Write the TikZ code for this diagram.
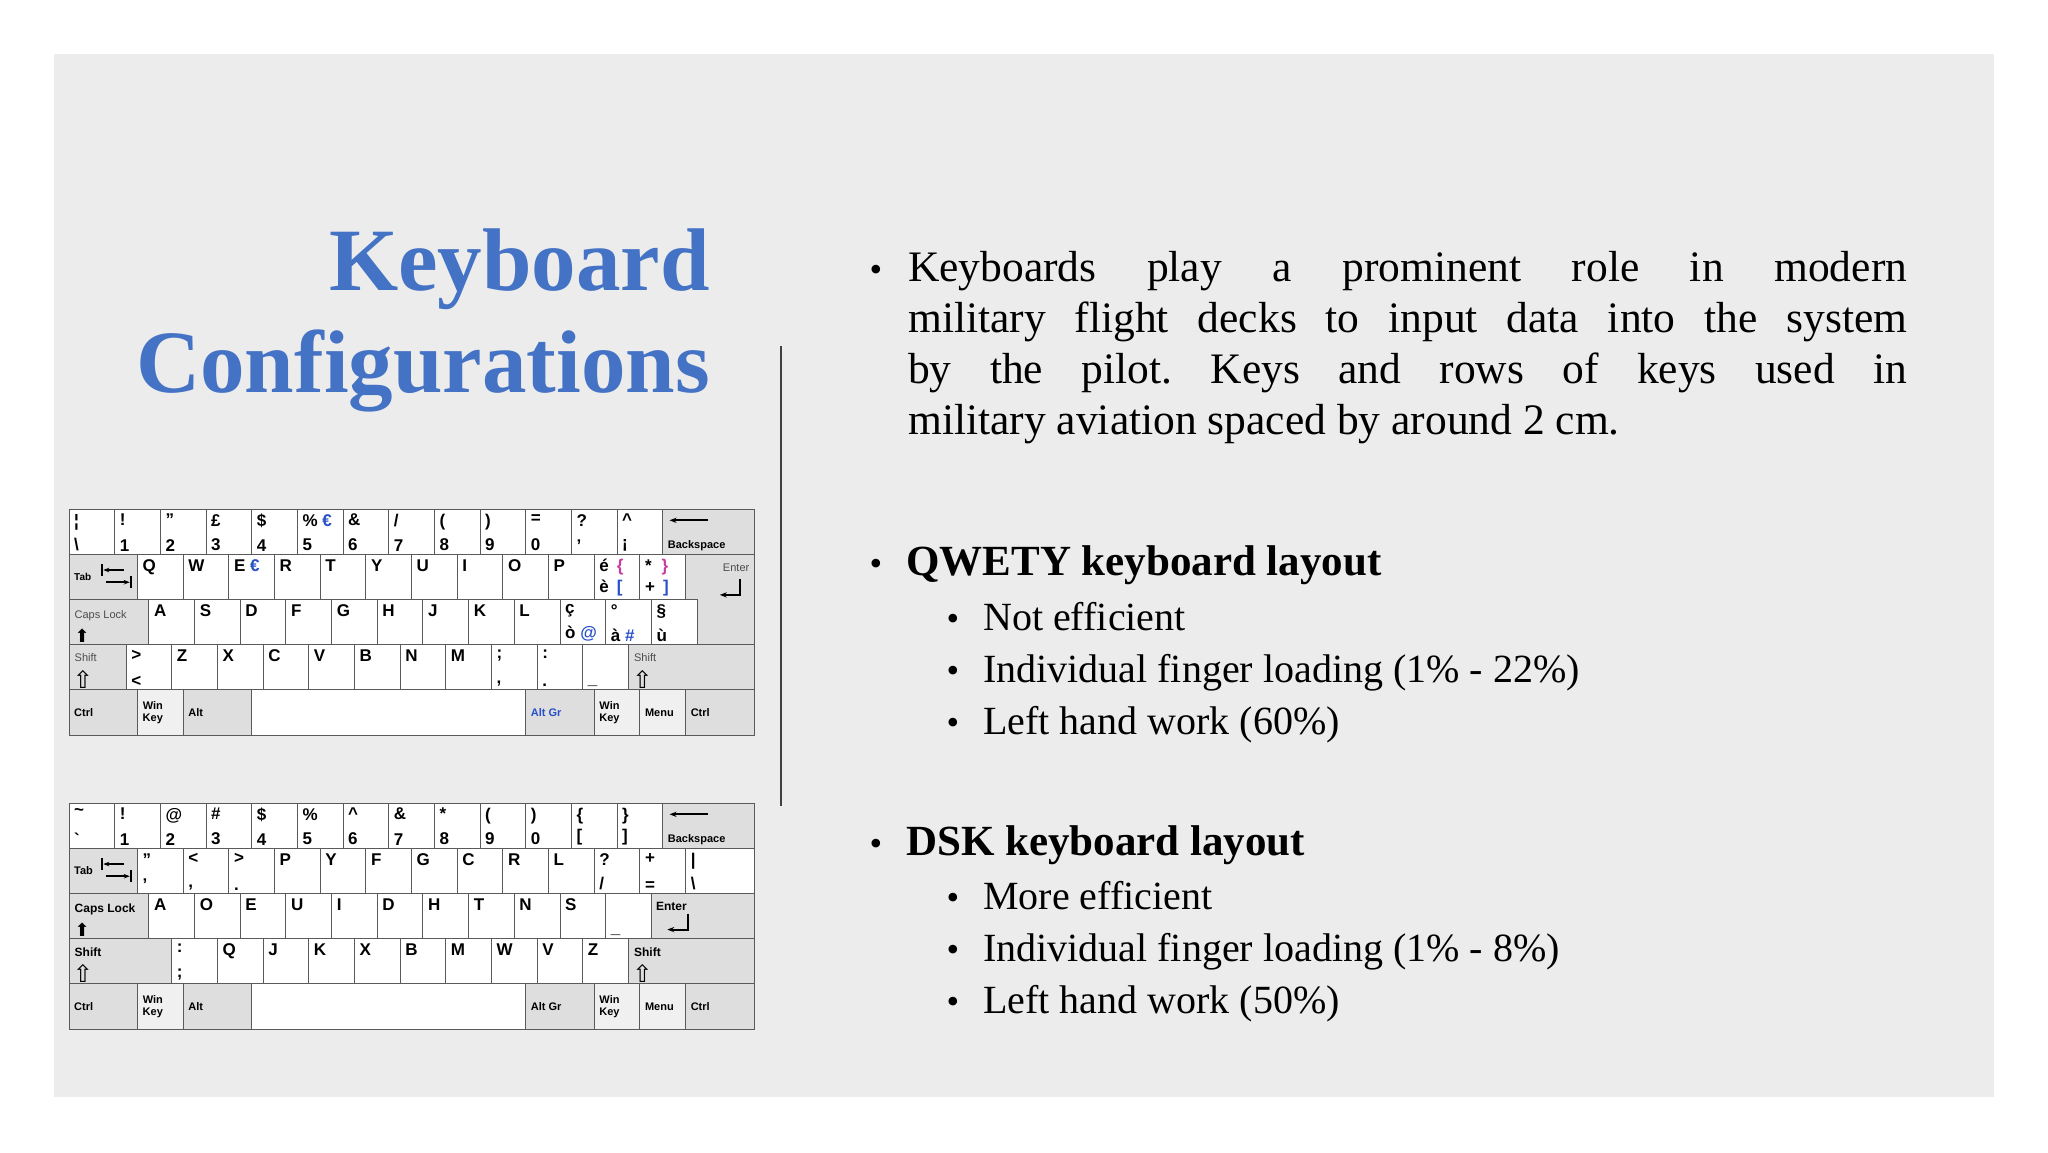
\documentclass[tikz,border=0pt]{standalone}
\usepackage{fontspec}
\setmainfont{Liberation Serif}
\setsansfont{Liberation Sans}
\newfontfamily\djv{DejaVu Sans}
\usetikzlibrary{arrows.meta}
\definecolor{bgc}{RGB}{236,236,237}
\definecolor{ttl}{RGB}{68,114,196}
\definecolor{kblue}{RGB}{40,80,200}
\definecolor{kpink}{RGB}{200,60,160}
\definecolor{kmod}{RGB}{222,222,222}
\definecolor{klt}{RGB}{240,240,240}
\definecolor{kedge}{RGB}{90,90,90}
\tikzset{
 keyb/.style={draw=kedge,line width=0.9pt},
 ktop/.style={anchor=north west,inner sep=0pt,xshift=5pt,yshift=-5pt,font=\sffamily\bfseries\fontsize{17}{17}\selectfont},
 kbot/.style={anchor=south west,inner sep=0pt,xshift=5pt,yshift=3pt,font=\sffamily\bfseries\fontsize{17}{17}\selectfont},
 kmid/.style={anchor=west,inner sep=0pt,xshift=5pt,font=\sffamily\bfseries\fontsize{11}{12}\selectfont,align=center},
 body/.style={anchor=north west,inner sep=0pt,font=\frenchspacing\fontsize{43.5}{51}\selectfont,text width=999pt,align=justify},
 bul/.style={anchor=base,inner sep=0pt,font=\fontsize{36}{51}\selectfont},
 sub/.style={anchor=base west,inner sep=0pt,font=\fontsize{40}{50}\selectfont},
 head/.style={anchor=base west,inner sep=0pt,font=\bfseries\fontsize{43}{50}\selectfont},
}
\newcommand\K[6]{%
 \draw[keyb,fill=#4] (#1,#2) rectangle ++(#3,1);
 \node[ktop] at (#1,#2) {#5};
 \node[kbot] at (#1,#2+1) {#6};}
\newcommand\M[5]{%
 \draw[keyb,fill=#4] (#1,#2) rectangle ++(#3,1);
 \node[kmid] at (#1,#2+0.5) {#5};}
\newcommand\Shft[2]{\node[anchor=south west,inner sep=0pt,font=\djv\fontsize{24}{24}\selectfont] at (#1+0.08,#2+0.97) {⇧};}
\newcommand\Caps[2]{\node[anchor=south west,inner sep=0pt,font=\djv\fontsize{18}{18}\selectfont] at (#1+0.12,#2+0.95) {⬆};}
\newcommand\Bksp[2]{\draw[line width=2pt,-{Stealth[length=7pt]}] (#1+1.0,#2+0.25) -- (#1+0.15,#2+0.25);}
\newcommand\TabA[2]{\draw[line width=1.8pt,-{Stealth[length=6pt]}] (#1+1.2,#2+0.35) -- (#1+0.75,#2+0.35);
 \draw[line width=1.8pt] (#1+0.73,#2+0.22) -- (#1+0.73,#2+0.48);
 \draw[line width=1.8pt,-{Stealth[length=6pt]}] (#1+0.8,#2+0.62) -- (#1+1.33,#2+0.62);
 \draw[line width=1.8pt] (#1+1.36,#2+0.49) -- (#1+1.36,#2+0.75);}
\newcommand\Ent[2]{\draw[line width=2pt,-{Stealth[length=7pt]}] (#1,#2) -- ++(0,0.35) -- ++(-0.45,0);}
\begin{document}
\begin{tikzpicture}[x=1pt,y=-1pt]
\useasboundingbox (0,0) rectangle (2048,1152);
\fill[white] (0,0) rectangle (2048,1152);
\fill[bgc] (54,54) rectangle (1994,1097);
% title
\node[anchor=base east,inner sep=0pt,text=ttl,font=\bfseries\fontsize{89}{100}\selectfont] (t1) at (710,290) {Keyboard};
\node[anchor=base east,inner sep=0pt,text=ttl,font=\bfseries\fontsize{89}{100}\selectfont] (t2) at (710,392) {Configurations};
\draw[line width=2.5pt,draw=black!75] (781,346) -- (781,806);
% right text
\node[bul] (b1) at (876,281) {•};
\node[body] (p1) at (908,251) {Keyboards play a prominent role in modern\linebreak military flight decks to input data into the system\linebreak by the pilot. Keys and rows of keys used in\linebreak military aviation spaced by around 2 cm.};
\node[bul] (b2) at (876,575) {•};
\node[head] (h1) at (906,575) {QWETY keyboard layout};
\node[bul] (s1) at (953,630) {•}; \node[sub] (s1t) at (983,630) {Not efficient};
\node[bul] (s2) at (953,682) {•}; \node[sub] (s2t) at (983,682) {Individual finger loading (1\% - 22\%)};
\node[bul] (s3) at (953,734) {•}; \node[sub] (s3t) at (983,734) {Left hand work (60\%)};
\node[bul] (b3) at (876,855) {•};
\node[head] (h2) at (906,855) {DSK keyboard layout};
\node[bul] (s4) at (953,909) {•}; \node[sub] (s4t) at (983,909) {More efficient};
\node[bul] (s5) at (953,961) {•}; \node[sub] (s5t) at (983,961) {Individual finger loading (1\% - 8\%)};
\node[bul] (s6) at (953,1013) {•}; \node[sub] (s6t) at (983,1013) {Left hand work (50\%)};
% ===== top keyboard =====
\begin{scope}[shift={(69pt,-509pt)},x=45.67pt,y=-45.2pt]
\fill[bgc!85!gray] (0,0) rectangle (15,5);
\K{0}{0}{1}{white}{¦}{\textbackslash}
\K{1}{0}{1}{white}{!}{1}
\K{2}{0}{1}{white}{"}{2}
\K{3}{0}{1}{white}{£}{3}
\K{4}{0}{1}{white}{\$}{4}
\K{5}{0}{1}{white}{\% \textcolor{kblue}{€}}{5}
\K{6}{0}{1}{white}{\&}{6}
\K{7}{0}{1}{white}{/}{7}
\K{8}{0}{1}{white}{(}{8}
\K{9}{0}{1}{white}{)}{9}
\K{10}{0}{1}{white}{=}{0}
\K{11}{0}{1}{white}{?}{'}
\K{12}{0}{1}{white}{\textasciicircum}{¡}
\K{13}{0}{2}{kmod}{}{\fontsize{11}{11}\selectfont Backspace}
\Bksp{13}{0}
\M{0}{1}{1.5}{kmod}{\fontsize{10}{10}\selectfont Tab}
\TabA{0}{1}
\K{1.5}{1}{1}{white}{Q}{}
\K{2.5}{1}{1}{white}{W}{}
\K{3.5}{1}{1}{white}{E \textcolor{kblue}{€}}{}
\K{4.5}{1}{1}{white}{R}{}
\K{5.5}{1}{1}{white}{T}{}
\K{6.5}{1}{1}{white}{Y}{}
\K{7.5}{1}{1}{white}{U}{}
\K{8.5}{1}{1}{white}{I}{}
\K{9.5}{1}{1}{white}{O}{}
\K{10.5}{1}{1}{white}{P}{}
\K{11.5}{1}{1}{white}{é\hspace{8pt}\textcolor{kpink}{\{}}{è\hspace{8pt}\textcolor{kblue}{[}}
\K{12.5}{1}{1}{white}{*\hspace{10pt}\textcolor{kpink}{\}}}{+\hspace{8pt}\textcolor{kblue}{]}}
\draw[keyb,fill=kmod] (13.5,1) -- (15,1) -- (15,3) -- (13.75,3) -- (13.75,2) -- (13.5,2) -- cycle;
\node[anchor=north east,inner sep=0pt,font=\sffamily\fontsize{11}{11}\selectfont,text=black!70] at (14.9,1.2) {Enter};
\Ent{14.7}{1.55}
\draw[keyb,fill=kmod] (0,2) rectangle (1.75,3);
\node[anchor=north west,inner sep=0pt,font=\sffamily\fontsize{11}{11}\selectfont,text=black!70] at (0.12,2.25) {Caps Lock};
\Caps{0}{2}
\K{1.75}{2}{1}{white}{A}{}
\K{2.75}{2}{1}{white}{S}{}
\K{3.75}{2}{1}{white}{D}{}
\K{4.75}{2}{1}{white}{F}{}
\K{5.75}{2}{1}{white}{G}{}
\K{6.75}{2}{1}{white}{H}{}
\K{7.75}{2}{1}{white}{J}{}
\K{8.75}{2}{1}{white}{K}{}
\K{9.75}{2}{1}{white}{L}{}
\K{10.75}{2}{1}{white}{ç}{ò \textcolor{kblue}{@}}
\K{11.75}{2}{1}{white}{°}{à \textcolor{kblue}{\#}}
\K{12.75}{2}{1}{white}{§}{ù}
\draw[keyb,fill=kmod] (0,3) rectangle (1.25,4);
\node[anchor=north west,inner sep=0pt,font=\sffamily\fontsize{11}{11}\selectfont,text=black!70] at (0.12,3.2) {Shift};
\Shft{0}{3}
\K{1.25}{3}{1}{white}{>}{<}
\K{2.25}{3}{1}{white}{Z}{}
\K{3.25}{3}{1}{white}{X}{}
\K{4.25}{3}{1}{white}{C}{}
\K{5.25}{3}{1}{white}{V}{}
\K{6.25}{3}{1}{white}{B}{}
\K{7.25}{3}{1}{white}{N}{}
\K{8.25}{3}{1}{white}{M}{}
\K{9.25}{3}{1}{white}{;}{,}
\K{10.25}{3}{1}{white}{:}{.}
\K{11.25}{3}{1}{white}{}{\_}
\draw[keyb,fill=kmod] (12.25,3) rectangle (15,4);
\node[anchor=north west,inner sep=0pt,font=\sffamily\fontsize{11}{11}\selectfont,text=black!70] at (12.37,3.2) {Shift};
\Shft{12.25}{3}
\M{0}{4}{1.5}{kmod}{Ctrl}
\M{1.5}{4}{1}{klt}{Win\\Key}
\M{2.5}{4}{1.5}{kmod}{Alt}
\M{4}{4}{6}{white}{}
\M{10}{4}{1.5}{kmod}{\textcolor{kblue}{Alt Gr}}
\M{11.5}{4}{1}{klt}{Win\\Key}
\M{12.5}{4}{1}{klt}{Menu}
\M{13.5}{4}{1.5}{kmod}{Ctrl}
\end{scope}
% ===== bottom keyboard =====
\begin{scope}[shift={(69pt,-803pt)},x=45.67pt,y=-45.2pt]
\fill[bgc!85!gray] (0,0) rectangle (15,5);
\K{0}{0}{1}{white}{\textasciitilde}{\textasciigrave}
\K{1}{0}{1}{white}{!}{1}
\K{2}{0}{1}{white}{@}{2}
\K{3}{0}{1}{white}{\#}{3}
\K{4}{0}{1}{white}{\$}{4}
\K{5}{0}{1}{white}{\%}{5}
\K{6}{0}{1}{white}{\textasciicircum}{6}
\K{7}{0}{1}{white}{\&}{7}
\K{8}{0}{1}{white}{*}{8}
\K{9}{0}{1}{white}{(}{9}
\K{10}{0}{1}{white}{)}{0}
\K{11}{0}{1}{white}{\{}{[}
\K{12}{0}{1}{white}{\}}{]}
\K{13}{0}{2}{kmod}{}{\fontsize{11}{11}\selectfont Backspace}
\Bksp{13}{0}
\M{0}{1}{1.5}{kmod}{\fontsize{11}{11}\selectfont Tab}
\TabA{0}{1}
\K{1.5}{1}{1}{white}{"}{'}
\K{2.5}{1}{1}{white}{<}{,}
\K{3.5}{1}{1}{white}{>}{.}
\K{4.5}{1}{1}{white}{P}{}
\K{5.5}{1}{1}{white}{Y}{}
\K{6.5}{1}{1}{white}{F}{}
\K{7.5}{1}{1}{white}{G}{}
\K{8.5}{1}{1}{white}{C}{}
\K{9.5}{1}{1}{white}{R}{}
\K{10.5}{1}{1}{white}{L}{}
\K{11.5}{1}{1}{white}{?}{/}
\K{12.5}{1}{1}{white}{+}{=}
\K{13.5}{1}{1.5}{white}{|}{\textbackslash}
\draw[keyb,fill=kmod] (0,2) rectangle (1.75,3);
\node[anchor=north west,inner sep=0pt,font=\sffamily\bfseries\fontsize{12}{12}\selectfont] at (0.12,2.22) {Caps Lock};
\Caps{0}{2}
\K{1.75}{2}{1}{white}{A}{}
\K{2.75}{2}{1}{white}{O}{}
\K{3.75}{2}{1}{white}{E}{}
\K{4.75}{2}{1}{white}{U}{}
\K{5.75}{2}{1}{white}{I}{}
\K{6.75}{2}{1}{white}{D}{}
\K{7.75}{2}{1}{white}{H}{}
\K{8.75}{2}{1}{white}{T}{}
\K{9.75}{2}{1}{white}{N}{}
\K{10.75}{2}{1}{white}{S}{}
\K{11.75}{2}{1}{white}{}{\_}
\draw[keyb,fill=kmod] (12.75,2) rectangle (15,3);
\node[anchor=north west,inner sep=0pt,font=\sffamily\bfseries\fontsize{12}{12}\selectfont] at (12.85,2.2) {Enter};
\Ent{13.55}{2.45}
\draw[keyb,fill=kmod] (0,3) rectangle (2.25,4);
\node[anchor=north west,inner sep=0pt,font=\sffamily\bfseries\fontsize{12}{12}\selectfont] at (0.12,3.2) {Shift};
\Shft{0}{3}
\K{2.25}{3}{1}{white}{:}{;}
\K{3.25}{3}{1}{white}{Q}{}
\K{4.25}{3}{1}{white}{J}{}
\K{5.25}{3}{1}{white}{K}{}
\K{6.25}{3}{1}{white}{X}{}
\K{7.25}{3}{1}{white}{B}{}
\K{8.25}{3}{1}{white}{M}{}
\K{9.25}{3}{1}{white}{W}{}
\K{10.25}{3}{1}{white}{V}{}
\K{11.25}{3}{1}{white}{Z}{}
\draw[keyb,fill=kmod] (12.25,3) rectangle (15,4);
\node[anchor=north west,inner sep=0pt,font=\sffamily\bfseries\fontsize{12}{12}\selectfont] at (12.37,3.2) {Shift};
\Shft{12.25}{3}
\M{0}{4}{1.5}{kmod}{Ctrl}
\M{1.5}{4}{1}{klt}{Win\\Key}
\M{2.5}{4}{1.5}{kmod}{Alt}
\M{4}{4}{6}{white}{}
\M{10}{4}{1.5}{kmod}{Alt Gr}
\M{11.5}{4}{1}{klt}{Win\\Key}
\M{12.5}{4}{1}{klt}{Menu}
\M{13.5}{4}{1.5}{kmod}{Ctrl}
\end{scope}
\end{tikzpicture}
\end{document}
